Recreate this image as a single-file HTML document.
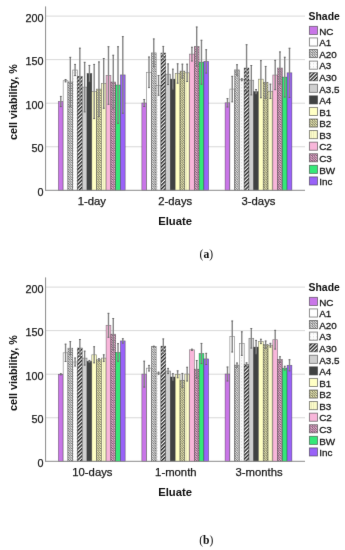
<!DOCTYPE html>
<html><head><meta charset="utf-8"><title>Cell viability charts</title>
<style>html,body{margin:0;padding:0;background:#fff;}body{width:345px;height:550px;overflow:hidden;}svg{display:block;}</style>
</head><body>
<svg width="345" height="550" viewBox="0 0 345 550" font-family="'Liberation Sans', Arial, sans-serif"><defs>
<pattern id="pA20" patternUnits="userSpaceOnUse" width="2.4" height="2.4">
<rect width="2.4" height="2.4" fill="#e8e8e8"/><path d="M-0.6,-0.6 L3,3" stroke="#5a5a5a" stroke-width="0.75"/><rect x="0.1" y="1.5" width="0.8" height="0.8" fill="#888"/>
</pattern>
<pattern id="pB2" patternUnits="userSpaceOnUse" width="2.4" height="2.4">
<rect width="2.4" height="2.4" fill="#ecebb8"/><path d="M-0.6,-0.6 L3,3" stroke="#66664c" stroke-width="0.75"/><rect x="0.1" y="1.5" width="0.8" height="0.8" fill="#8a8a6c"/>
</pattern>
<pattern id="pC3" patternUnits="userSpaceOnUse" width="2.4" height="2.4">
<rect width="2.4" height="2.4" fill="#eab0d0"/><path d="M-0.6,-0.6 L3,3" stroke="#6a4a60" stroke-width="0.8"/><rect x="0.1" y="1.5" width="0.8" height="0.8" fill="#8a6680"/>
</pattern>
<pattern id="pA3" patternUnits="userSpaceOnUse" width="3" height="3">
<rect width="3" height="3" fill="#fcfcfc"/><rect x="1.2" y="0" width="0.6" height="1.5" fill="#d4d4d4"/>
</pattern>
<pattern id="pB3" patternUnits="userSpaceOnUse" width="2.5" height="3">
<rect width="2.5" height="3" fill="#fcfcca"/><rect x="1" y="0" width="0.6" height="3" fill="#dcdcb0"/>
</pattern>
<pattern id="pA30" patternUnits="userSpaceOnUse" width="2.6" height="2.6" patternTransform="rotate(45)">
<rect width="2.6" height="2.6" fill="#fff"/><rect x="0" y="0" width="1.4" height="2.6" fill="#1e1e1e"/>
</pattern>
<filter id="soft" x="0" y="0" width="345" height="550" filterUnits="userSpaceOnUse" color-interpolation-filters="sRGB"><feConvolveMatrix order="3" kernelMatrix="0 1 0 1 12 1 0 1 0" edgeMode="duplicate" preserveAlpha="true"/></filter>
</defs>
<g filter="url(#soft)"><rect width="345" height="550" fill="#fff"/>
<line x1="45.6" y1="146.75" x2="305" y2="146.75" stroke="#d8d8d8" stroke-width="1"/>
<line x1="45.6" y1="103.2" x2="305" y2="103.2" stroke="#d8d8d8" stroke-width="1"/>
<line x1="45.6" y1="59.65" x2="305" y2="59.65" stroke="#d8d8d8" stroke-width="1"/>
<line x1="45.6" y1="16.1" x2="305" y2="16.1" stroke="#d8d8d8" stroke-width="1"/>
<rect x="58.4" y="101.5" width="4.77" height="88.8" fill="#C976E8" stroke="#2a2a2a" stroke-opacity="0.55" stroke-width="0.65"/>
<rect x="63.17" y="80.7" width="4.77" height="109.6" fill="#FFFFFF" stroke="#2a2a2a" stroke-opacity="0.55" stroke-width="0.65"/>
<rect x="67.94" y="82" width="4.77" height="108.3" fill="url(#pA20)" stroke="#2a2a2a" stroke-opacity="0.55" stroke-width="0.65"/>
<rect x="72.71" y="70" width="4.77" height="120.3" fill="url(#pA3)" stroke="#2a2a2a" stroke-opacity="0.55" stroke-width="0.65"/>
<rect x="77.48" y="76.3" width="4.77" height="114" fill="url(#pA30)" stroke="#2a2a2a" stroke-opacity="0.55" stroke-width="0.65"/>
<rect x="82.25" y="87.1" width="4.77" height="103.2" fill="#CFCFCF" stroke="#2a2a2a" stroke-opacity="0.55" stroke-width="0.65"/>
<rect x="87.02" y="73.5" width="4.77" height="116.8" fill="#404242" stroke="#2a2a2a" stroke-opacity="0.55" stroke-width="0.65"/>
<rect x="91.79" y="91.5" width="4.77" height="98.8" fill="#FFFFC4" stroke="#2a2a2a" stroke-opacity="0.55" stroke-width="0.65"/>
<rect x="96.56" y="89.1" width="4.77" height="101.2" fill="url(#pB2)" stroke="#2a2a2a" stroke-opacity="0.55" stroke-width="0.65"/>
<rect x="101.33" y="83.4" width="4.77" height="106.9" fill="url(#pB3)" stroke="#2a2a2a" stroke-opacity="0.55" stroke-width="0.65"/>
<rect x="106.1" y="75.5" width="4.77" height="114.8" fill="#F8B6DA" stroke="#2a2a2a" stroke-opacity="0.55" stroke-width="0.65"/>
<rect x="110.87" y="82" width="4.77" height="108.3" fill="url(#pC3)" stroke="#2a2a2a" stroke-opacity="0.55" stroke-width="0.65"/>
<rect x="115.64" y="85" width="4.77" height="105.3" fill="#34E878" stroke="#2a2a2a" stroke-opacity="0.55" stroke-width="0.65"/>
<rect x="120.41" y="74.9" width="4.77" height="115.4" fill="#9962F8" stroke="#2a2a2a" stroke-opacity="0.55" stroke-width="0.65"/>
<rect x="141.85" y="103" width="4.77" height="87.3" fill="#C976E8" stroke="#2a2a2a" stroke-opacity="0.55" stroke-width="0.65"/>
<rect x="146.62" y="72.3" width="4.77" height="118" fill="#FFFFFF" stroke="#2a2a2a" stroke-opacity="0.55" stroke-width="0.65"/>
<rect x="151.39" y="52.9" width="4.77" height="137.4" fill="url(#pA20)" stroke="#2a2a2a" stroke-opacity="0.55" stroke-width="0.65"/>
<rect x="156.16" y="85.4" width="4.77" height="104.9" fill="url(#pA3)" stroke="#2a2a2a" stroke-opacity="0.55" stroke-width="0.65"/>
<rect x="160.93" y="53" width="4.77" height="137.3" fill="url(#pA30)" stroke="#2a2a2a" stroke-opacity="0.55" stroke-width="0.65"/>
<rect x="165.7" y="74.2" width="4.77" height="116.1" fill="#CFCFCF" stroke="#2a2a2a" stroke-opacity="0.55" stroke-width="0.65"/>
<rect x="170.47" y="79.1" width="4.77" height="111.2" fill="#404242" stroke="#2a2a2a" stroke-opacity="0.55" stroke-width="0.65"/>
<rect x="175.24" y="73.5" width="4.77" height="116.8" fill="#FFFFC4" stroke="#2a2a2a" stroke-opacity="0.55" stroke-width="0.65"/>
<rect x="180.01" y="71.1" width="4.77" height="119.2" fill="url(#pB2)" stroke="#2a2a2a" stroke-opacity="0.55" stroke-width="0.65"/>
<rect x="184.78" y="72.8" width="4.77" height="117.5" fill="url(#pB3)" stroke="#2a2a2a" stroke-opacity="0.55" stroke-width="0.65"/>
<rect x="189.55" y="54.1" width="4.77" height="136.2" fill="#F8B6DA" stroke="#2a2a2a" stroke-opacity="0.55" stroke-width="0.65"/>
<rect x="194.32" y="46.5" width="4.77" height="143.8" fill="url(#pC3)" stroke="#2a2a2a" stroke-opacity="0.55" stroke-width="0.65"/>
<rect x="199.09" y="62.2" width="4.77" height="128.1" fill="#34E878" stroke="#2a2a2a" stroke-opacity="0.55" stroke-width="0.65"/>
<rect x="203.86" y="61.4" width="4.77" height="128.9" fill="#9962F8" stroke="#2a2a2a" stroke-opacity="0.55" stroke-width="0.65"/>
<rect x="225.1" y="102.8" width="4.77" height="87.5" fill="#C976E8" stroke="#2a2a2a" stroke-opacity="0.55" stroke-width="0.65"/>
<rect x="229.87" y="89.1" width="4.77" height="101.2" fill="#FFFFFF" stroke="#2a2a2a" stroke-opacity="0.55" stroke-width="0.65"/>
<rect x="234.64" y="69.9" width="4.77" height="120.4" fill="url(#pA20)" stroke="#2a2a2a" stroke-opacity="0.55" stroke-width="0.65"/>
<rect x="239.41" y="79.7" width="4.77" height="110.6" fill="url(#pA3)" stroke="#2a2a2a" stroke-opacity="0.55" stroke-width="0.65"/>
<rect x="244.18" y="68" width="4.77" height="122.3" fill="url(#pA30)" stroke="#2a2a2a" stroke-opacity="0.55" stroke-width="0.65"/>
<rect x="248.95" y="80.2" width="4.77" height="110.1" fill="#CFCFCF" stroke="#2a2a2a" stroke-opacity="0.55" stroke-width="0.65"/>
<rect x="253.72" y="91.6" width="4.77" height="98.7" fill="#404242" stroke="#2a2a2a" stroke-opacity="0.55" stroke-width="0.65"/>
<rect x="258.49" y="79.2" width="4.77" height="111.1" fill="#FFFFC4" stroke="#2a2a2a" stroke-opacity="0.55" stroke-width="0.65"/>
<rect x="263.26" y="82.3" width="4.77" height="108" fill="url(#pB2)" stroke="#2a2a2a" stroke-opacity="0.55" stroke-width="0.65"/>
<rect x="268.03" y="91.3" width="4.77" height="99" fill="url(#pB3)" stroke="#2a2a2a" stroke-opacity="0.55" stroke-width="0.65"/>
<rect x="272.8" y="75" width="4.77" height="115.3" fill="#F8B6DA" stroke="#2a2a2a" stroke-opacity="0.55" stroke-width="0.65"/>
<rect x="277.57" y="68" width="4.77" height="122.3" fill="url(#pC3)" stroke="#2a2a2a" stroke-opacity="0.55" stroke-width="0.65"/>
<rect x="282.34" y="77.1" width="4.77" height="113.2" fill="#34E878" stroke="#2a2a2a" stroke-opacity="0.55" stroke-width="0.65"/>
<rect x="287.11" y="72.8" width="4.77" height="117.5" fill="#9962F8" stroke="#2a2a2a" stroke-opacity="0.55" stroke-width="0.65"/>
<line x1="60.78" y1="96.2" x2="60.78" y2="106.8" stroke="#858585" stroke-width="1.4"/>
<rect x="59.88" y="95.9" width="1.8" height="1" fill="#6a6a6a"/>
<rect x="59.88" y="106.1" width="1.8" height="1" fill="#6a6a6a"/>
<line x1="65.56" y1="79.3" x2="65.56" y2="82.1" stroke="#858585" stroke-width="1.4"/>
<rect x="64.66" y="79" width="1.8" height="1" fill="#6a6a6a"/>
<rect x="64.66" y="81.4" width="1.8" height="1" fill="#6a6a6a"/>
<line x1="70.33" y1="57.1" x2="70.33" y2="106.9" stroke="#858585" stroke-width="1.4"/>
<rect x="69.42" y="56.8" width="1.8" height="1" fill="#6a6a6a"/>
<rect x="69.42" y="106.2" width="1.8" height="1" fill="#6a6a6a"/>
<line x1="75.09" y1="64.2" x2="75.09" y2="75.8" stroke="#858585" stroke-width="1.4"/>
<rect x="74.19" y="63.9" width="1.8" height="1" fill="#6a6a6a"/>
<rect x="74.19" y="75.1" width="1.8" height="1" fill="#6a6a6a"/>
<line x1="79.86" y1="47.9" x2="79.86" y2="104.7" stroke="#858585" stroke-width="1.4"/>
<rect x="78.96" y="47.6" width="1.8" height="1" fill="#6a6a6a"/>
<rect x="78.96" y="104" width="1.8" height="1" fill="#6a6a6a"/>
<line x1="84.64" y1="62.1" x2="84.64" y2="112.1" stroke="#858585" stroke-width="1.4"/>
<rect x="83.73" y="61.8" width="1.8" height="1" fill="#6a6a6a"/>
<rect x="83.73" y="111.4" width="1.8" height="1" fill="#6a6a6a"/>
<line x1="89.41" y1="65.2" x2="89.41" y2="81.8" stroke="#858585" stroke-width="1.4"/>
<rect x="88.5" y="64.9" width="1.8" height="1" fill="#6a6a6a"/>
<rect x="88.5" y="81.1" width="1.8" height="1" fill="#6a6a6a"/>
<line x1="94.17" y1="64.2" x2="94.17" y2="118.8" stroke="#858585" stroke-width="1.4"/>
<rect x="93.27" y="63.9" width="1.8" height="1" fill="#6a6a6a"/>
<rect x="93.27" y="118.1" width="1.8" height="1" fill="#6a6a6a"/>
<line x1="98.95" y1="61.7" x2="98.95" y2="116.5" stroke="#858585" stroke-width="1.4"/>
<rect x="98.05" y="61.4" width="1.8" height="1" fill="#6a6a6a"/>
<rect x="98.05" y="115.8" width="1.8" height="1" fill="#6a6a6a"/>
<line x1="103.71" y1="58.3" x2="103.71" y2="108.5" stroke="#858585" stroke-width="1.4"/>
<rect x="102.81" y="58" width="1.8" height="1" fill="#6a6a6a"/>
<rect x="102.81" y="107.8" width="1.8" height="1" fill="#6a6a6a"/>
<line x1="108.48" y1="46.5" x2="108.48" y2="104.5" stroke="#858585" stroke-width="1.4"/>
<rect x="107.58" y="46.2" width="1.8" height="1" fill="#6a6a6a"/>
<rect x="107.58" y="103.8" width="1.8" height="1" fill="#6a6a6a"/>
<line x1="113.26" y1="55" x2="113.26" y2="109" stroke="#858585" stroke-width="1.4"/>
<rect x="112.36" y="54.7" width="1.8" height="1" fill="#6a6a6a"/>
<rect x="112.36" y="108.3" width="1.8" height="1" fill="#6a6a6a"/>
<line x1="118.02" y1="46.5" x2="118.02" y2="123.5" stroke="#858585" stroke-width="1.4"/>
<rect x="117.12" y="46.2" width="1.8" height="1" fill="#6a6a6a"/>
<rect x="117.12" y="122.8" width="1.8" height="1" fill="#6a6a6a"/>
<line x1="122.8" y1="36.4" x2="122.8" y2="113.4" stroke="#858585" stroke-width="1.4"/>
<rect x="121.89" y="36.1" width="1.8" height="1" fill="#6a6a6a"/>
<rect x="121.89" y="112.7" width="1.8" height="1" fill="#6a6a6a"/>
<line x1="144.23" y1="99.3" x2="144.23" y2="106.7" stroke="#858585" stroke-width="1.4"/>
<rect x="143.33" y="99" width="1.8" height="1" fill="#6a6a6a"/>
<rect x="143.33" y="106" width="1.8" height="1" fill="#6a6a6a"/>
<line x1="149" y1="56.8" x2="149" y2="87.8" stroke="#858585" stroke-width="1.4"/>
<rect x="148.1" y="56.5" width="1.8" height="1" fill="#6a6a6a"/>
<rect x="148.1" y="87.1" width="1.8" height="1" fill="#6a6a6a"/>
<line x1="153.77" y1="38.7" x2="153.77" y2="67.1" stroke="#858585" stroke-width="1.4"/>
<rect x="152.87" y="38.4" width="1.8" height="1" fill="#6a6a6a"/>
<rect x="152.87" y="66.4" width="1.8" height="1" fill="#6a6a6a"/>
<line x1="158.54" y1="75.3" x2="158.54" y2="95.5" stroke="#858585" stroke-width="1.4"/>
<rect x="157.64" y="75" width="1.8" height="1" fill="#6a6a6a"/>
<rect x="157.64" y="94.8" width="1.8" height="1" fill="#6a6a6a"/>
<line x1="163.31" y1="46.2" x2="163.31" y2="59.8" stroke="#858585" stroke-width="1.4"/>
<rect x="162.41" y="45.9" width="1.8" height="1" fill="#6a6a6a"/>
<rect x="162.41" y="59.1" width="1.8" height="1" fill="#6a6a6a"/>
<line x1="168.08" y1="63.7" x2="168.08" y2="84.7" stroke="#858585" stroke-width="1.4"/>
<rect x="167.18" y="63.4" width="1.8" height="1" fill="#6a6a6a"/>
<rect x="167.18" y="84" width="1.8" height="1" fill="#6a6a6a"/>
<line x1="172.85" y1="68.9" x2="172.85" y2="89.3" stroke="#858585" stroke-width="1.4"/>
<rect x="171.95" y="68.6" width="1.8" height="1" fill="#6a6a6a"/>
<rect x="171.95" y="88.6" width="1.8" height="1" fill="#6a6a6a"/>
<line x1="177.62" y1="63.6" x2="177.62" y2="83.4" stroke="#858585" stroke-width="1.4"/>
<rect x="176.72" y="63.3" width="1.8" height="1" fill="#6a6a6a"/>
<rect x="176.72" y="82.7" width="1.8" height="1" fill="#6a6a6a"/>
<line x1="182.39" y1="63.9" x2="182.39" y2="78.3" stroke="#858585" stroke-width="1.4"/>
<rect x="181.49" y="63.6" width="1.8" height="1" fill="#6a6a6a"/>
<rect x="181.49" y="77.6" width="1.8" height="1" fill="#6a6a6a"/>
<line x1="187.16" y1="63.9" x2="187.16" y2="81.7" stroke="#858585" stroke-width="1.4"/>
<rect x="186.26" y="63.6" width="1.8" height="1" fill="#6a6a6a"/>
<rect x="186.26" y="81" width="1.8" height="1" fill="#6a6a6a"/>
<line x1="191.93" y1="47" x2="191.93" y2="61.2" stroke="#858585" stroke-width="1.4"/>
<rect x="191.03" y="46.7" width="1.8" height="1" fill="#6a6a6a"/>
<rect x="191.03" y="60.5" width="1.8" height="1" fill="#6a6a6a"/>
<line x1="196.7" y1="26.8" x2="196.7" y2="66.2" stroke="#858585" stroke-width="1.4"/>
<rect x="195.8" y="26.5" width="1.8" height="1" fill="#6a6a6a"/>
<rect x="195.8" y="65.5" width="1.8" height="1" fill="#6a6a6a"/>
<line x1="201.47" y1="40" x2="201.47" y2="84.4" stroke="#858585" stroke-width="1.4"/>
<rect x="200.57" y="39.7" width="1.8" height="1" fill="#6a6a6a"/>
<rect x="200.57" y="83.7" width="1.8" height="1" fill="#6a6a6a"/>
<line x1="206.24" y1="49.5" x2="206.24" y2="73.3" stroke="#858585" stroke-width="1.4"/>
<rect x="205.34" y="49.2" width="1.8" height="1" fill="#6a6a6a"/>
<rect x="205.34" y="72.6" width="1.8" height="1" fill="#6a6a6a"/>
<line x1="227.48" y1="98.4" x2="227.48" y2="107.2" stroke="#858585" stroke-width="1.4"/>
<rect x="226.58" y="98.1" width="1.8" height="1" fill="#6a6a6a"/>
<rect x="226.58" y="106.5" width="1.8" height="1" fill="#6a6a6a"/>
<line x1="232.25" y1="76.1" x2="232.25" y2="102.1" stroke="#858585" stroke-width="1.4"/>
<rect x="231.35" y="75.8" width="1.8" height="1" fill="#6a6a6a"/>
<rect x="231.35" y="101.4" width="1.8" height="1" fill="#6a6a6a"/>
<line x1="237.02" y1="64.5" x2="237.02" y2="75.3" stroke="#858585" stroke-width="1.4"/>
<rect x="236.12" y="64.2" width="1.8" height="1" fill="#6a6a6a"/>
<rect x="236.12" y="74.6" width="1.8" height="1" fill="#6a6a6a"/>
<line x1="241.79" y1="78.5" x2="241.79" y2="80.9" stroke="#858585" stroke-width="1.4"/>
<rect x="240.89" y="78.2" width="1.8" height="1" fill="#6a6a6a"/>
<rect x="240.89" y="80.2" width="1.8" height="1" fill="#6a6a6a"/>
<line x1="246.56" y1="44.5" x2="246.56" y2="91.5" stroke="#858585" stroke-width="1.4"/>
<rect x="245.66" y="44.2" width="1.8" height="1" fill="#6a6a6a"/>
<rect x="245.66" y="90.8" width="1.8" height="1" fill="#6a6a6a"/>
<line x1="251.33" y1="65.3" x2="251.33" y2="95.1" stroke="#858585" stroke-width="1.4"/>
<rect x="250.43" y="65" width="1.8" height="1" fill="#6a6a6a"/>
<rect x="250.43" y="94.4" width="1.8" height="1" fill="#6a6a6a"/>
<line x1="256.11" y1="89.3" x2="256.11" y2="93.9" stroke="#858585" stroke-width="1.4"/>
<rect x="255.21" y="89" width="1.8" height="1" fill="#6a6a6a"/>
<rect x="255.21" y="93.2" width="1.8" height="1" fill="#6a6a6a"/>
<line x1="260.88" y1="60.4" x2="260.88" y2="98" stroke="#858585" stroke-width="1.4"/>
<rect x="259.98" y="60.1" width="1.8" height="1" fill="#6a6a6a"/>
<rect x="259.98" y="97.3" width="1.8" height="1" fill="#6a6a6a"/>
<line x1="265.64" y1="66.2" x2="265.64" y2="98.4" stroke="#858585" stroke-width="1.4"/>
<rect x="264.75" y="65.9" width="1.8" height="1" fill="#6a6a6a"/>
<rect x="264.75" y="97.7" width="1.8" height="1" fill="#6a6a6a"/>
<line x1="270.41" y1="83.9" x2="270.41" y2="98.7" stroke="#858585" stroke-width="1.4"/>
<rect x="269.51" y="83.6" width="1.8" height="1" fill="#6a6a6a"/>
<rect x="269.51" y="98" width="1.8" height="1" fill="#6a6a6a"/>
<line x1="275.19" y1="60.1" x2="275.19" y2="89.9" stroke="#858585" stroke-width="1.4"/>
<rect x="274.29" y="59.8" width="1.8" height="1" fill="#6a6a6a"/>
<rect x="274.29" y="89.2" width="1.8" height="1" fill="#6a6a6a"/>
<line x1="279.95" y1="51.7" x2="279.95" y2="84.3" stroke="#858585" stroke-width="1.4"/>
<rect x="279.06" y="51.4" width="1.8" height="1" fill="#6a6a6a"/>
<rect x="279.06" y="83.6" width="1.8" height="1" fill="#6a6a6a"/>
<line x1="284.72" y1="57" x2="284.72" y2="97.2" stroke="#858585" stroke-width="1.4"/>
<rect x="283.82" y="56.7" width="1.8" height="1" fill="#6a6a6a"/>
<rect x="283.82" y="96.5" width="1.8" height="1" fill="#6a6a6a"/>
<line x1="289.5" y1="48" x2="289.5" y2="97.6" stroke="#858585" stroke-width="1.4"/>
<rect x="288.6" y="47.7" width="1.8" height="1" fill="#6a6a6a"/>
<rect x="288.6" y="96.9" width="1.8" height="1" fill="#6a6a6a"/>
<line x1="45.6" y1="6.4" x2="45.6" y2="190.3" stroke="#8c8c8c" stroke-width="1"/>
<line x1="45.1" y1="190.3" x2="305" y2="190.3" stroke="#8c8c8c" stroke-width="1"/>
<text x="43.6" y="195.8" text-anchor="end" font-size="10.8" fill="#1a1a1a" stroke="#1a1a1a" stroke-width="0.25">0</text>
<text x="43.6" y="152.25" text-anchor="end" font-size="10.8" fill="#1a1a1a" stroke="#1a1a1a" stroke-width="0.25">50</text>
<text x="43.6" y="108.7" text-anchor="end" font-size="10.8" fill="#1a1a1a" stroke="#1a1a1a" stroke-width="0.25">100</text>
<text x="43.6" y="65.15" text-anchor="end" font-size="10.8" fill="#1a1a1a" stroke="#1a1a1a" stroke-width="0.25">150</text>
<text x="43.6" y="21.6" text-anchor="end" font-size="10.8" fill="#1a1a1a" stroke="#1a1a1a" stroke-width="0.25">200</text>
<text x="91.79" y="204.7" text-anchor="middle" font-size="11.3" fill="#1a1a1a" stroke="#1a1a1a" stroke-width="0.25">1-day</text>
<text x="175.24" y="204.7" text-anchor="middle" font-size="11.3" fill="#1a1a1a" stroke="#1a1a1a" stroke-width="0.25">2-days</text>
<text x="258.49" y="204.7" text-anchor="middle" font-size="11.3" fill="#1a1a1a" stroke="#1a1a1a" stroke-width="0.25">3-days</text>
<text x="175.1" y="225" text-anchor="middle" font-size="11.3" font-weight="bold" fill="#111">Eluate</text>
<text transform="translate(17.3,102.1) rotate(-90)" text-anchor="middle" font-size="10.8" font-weight="bold" fill="#111">cell viability, %</text>
<text x="308.6" y="19.6" font-size="10.4" font-weight="bold" fill="#111">Shade</text>
<rect x="309.4" y="26.35" width="8.1" height="8.1" fill="#C976E8" stroke="#3a3a3a" stroke-opacity="0.62" stroke-width="0.9"/>
<text x="319.2" y="34.6" font-size="9.9" fill="#1a1a1a" stroke="#1a1a1a" stroke-width="0.3">NC</text>
<rect x="309.4" y="37.93" width="8.1" height="8.1" fill="#FFFFFF" stroke="#3a3a3a" stroke-opacity="0.62" stroke-width="0.9"/>
<text x="319.2" y="46.18" font-size="9.9" fill="#1a1a1a" stroke="#1a1a1a" stroke-width="0.3">A1</text>
<rect x="309.4" y="49.51" width="8.1" height="8.1" fill="url(#pA20)" stroke="#3a3a3a" stroke-opacity="0.62" stroke-width="0.9"/>
<text x="319.2" y="57.76" font-size="9.9" fill="#1a1a1a" stroke="#1a1a1a" stroke-width="0.3">A20</text>
<rect x="309.4" y="61.09" width="8.1" height="8.1" fill="url(#pA3)" stroke="#3a3a3a" stroke-opacity="0.62" stroke-width="0.9"/>
<text x="319.2" y="69.34" font-size="9.9" fill="#1a1a1a" stroke="#1a1a1a" stroke-width="0.3">A3</text>
<rect x="309.4" y="72.67" width="8.1" height="8.1" fill="url(#pA30)" stroke="#3a3a3a" stroke-opacity="0.62" stroke-width="0.9"/>
<text x="319.2" y="80.92" font-size="9.9" fill="#1a1a1a" stroke="#1a1a1a" stroke-width="0.3">A30</text>
<rect x="309.4" y="84.25" width="8.1" height="8.1" fill="#CFCFCF" stroke="#3a3a3a" stroke-opacity="0.62" stroke-width="0.9"/>
<text x="319.2" y="92.5" font-size="9.9" fill="#1a1a1a" stroke="#1a1a1a" stroke-width="0.3">A3.5</text>
<rect x="309.4" y="95.83" width="8.1" height="8.1" fill="#404242" stroke="#3a3a3a" stroke-opacity="0.62" stroke-width="0.9"/>
<text x="319.2" y="104.08" font-size="9.9" fill="#1a1a1a" stroke="#1a1a1a" stroke-width="0.3">A4</text>
<rect x="309.4" y="107.41" width="8.1" height="8.1" fill="#FFFFC4" stroke="#3a3a3a" stroke-opacity="0.62" stroke-width="0.9"/>
<text x="319.2" y="115.66" font-size="9.9" fill="#1a1a1a" stroke="#1a1a1a" stroke-width="0.3">B1</text>
<rect x="309.4" y="118.99" width="8.1" height="8.1" fill="url(#pB2)" stroke="#3a3a3a" stroke-opacity="0.62" stroke-width="0.9"/>
<text x="319.2" y="127.24" font-size="9.9" fill="#1a1a1a" stroke="#1a1a1a" stroke-width="0.3">B2</text>
<rect x="309.4" y="130.57" width="8.1" height="8.1" fill="url(#pB3)" stroke="#3a3a3a" stroke-opacity="0.62" stroke-width="0.9"/>
<text x="319.2" y="138.82" font-size="9.9" fill="#1a1a1a" stroke="#1a1a1a" stroke-width="0.3">B3</text>
<rect x="309.4" y="142.15" width="8.1" height="8.1" fill="#F8B6DA" stroke="#3a3a3a" stroke-opacity="0.62" stroke-width="0.9"/>
<text x="319.2" y="150.4" font-size="9.9" fill="#1a1a1a" stroke="#1a1a1a" stroke-width="0.3">C2</text>
<rect x="309.4" y="153.73" width="8.1" height="8.1" fill="url(#pC3)" stroke="#3a3a3a" stroke-opacity="0.62" stroke-width="0.9"/>
<text x="319.2" y="161.98" font-size="9.9" fill="#1a1a1a" stroke="#1a1a1a" stroke-width="0.3">C3</text>
<rect x="309.4" y="165.31" width="8.1" height="8.1" fill="#34E878" stroke="#3a3a3a" stroke-opacity="0.62" stroke-width="0.9"/>
<text x="319.2" y="173.56" font-size="9.9" fill="#1a1a1a" stroke="#1a1a1a" stroke-width="0.3">BW</text>
<rect x="309.4" y="176.89" width="8.1" height="8.1" fill="#9962F8" stroke="#3a3a3a" stroke-opacity="0.62" stroke-width="0.9"/>
<text x="319.2" y="185.14" font-size="9.9" fill="#1a1a1a" stroke="#1a1a1a" stroke-width="0.3">Inc</text>
<line x1="45.6" y1="417.75" x2="305" y2="417.75" stroke="#d8d8d8" stroke-width="1"/>
<line x1="45.6" y1="374.2" x2="305" y2="374.2" stroke="#d8d8d8" stroke-width="1"/>
<line x1="45.6" y1="330.65" x2="305" y2="330.65" stroke="#d8d8d8" stroke-width="1"/>
<line x1="45.6" y1="287.1" x2="305" y2="287.1" stroke="#d8d8d8" stroke-width="1"/>
<rect x="58.4" y="374.3" width="4.77" height="87" fill="#C976E8" stroke="#2a2a2a" stroke-opacity="0.55" stroke-width="0.65"/>
<rect x="63.17" y="352.8" width="4.77" height="108.5" fill="#FFFFFF" stroke="#2a2a2a" stroke-opacity="0.55" stroke-width="0.65"/>
<rect x="67.94" y="348.2" width="4.77" height="113.1" fill="url(#pA20)" stroke="#2a2a2a" stroke-opacity="0.55" stroke-width="0.65"/>
<rect x="72.71" y="362" width="4.77" height="99.3" fill="url(#pA3)" stroke="#2a2a2a" stroke-opacity="0.55" stroke-width="0.65"/>
<rect x="77.48" y="348" width="4.77" height="113.3" fill="url(#pA30)" stroke="#2a2a2a" stroke-opacity="0.55" stroke-width="0.65"/>
<rect x="82.25" y="358.1" width="4.77" height="103.2" fill="#CFCFCF" stroke="#2a2a2a" stroke-opacity="0.55" stroke-width="0.65"/>
<rect x="87.02" y="361.4" width="4.77" height="99.9" fill="#404242" stroke="#2a2a2a" stroke-opacity="0.55" stroke-width="0.65"/>
<rect x="91.79" y="354.8" width="4.77" height="106.5" fill="#FFFFC4" stroke="#2a2a2a" stroke-opacity="0.55" stroke-width="0.65"/>
<rect x="96.56" y="359.8" width="4.77" height="101.5" fill="url(#pB2)" stroke="#2a2a2a" stroke-opacity="0.55" stroke-width="0.65"/>
<rect x="101.33" y="358.1" width="4.77" height="103.2" fill="url(#pB3)" stroke="#2a2a2a" stroke-opacity="0.55" stroke-width="0.65"/>
<rect x="106.1" y="325.3" width="4.77" height="136" fill="#F8B6DA" stroke="#2a2a2a" stroke-opacity="0.55" stroke-width="0.65"/>
<rect x="110.87" y="334.2" width="4.77" height="127.1" fill="url(#pC3)" stroke="#2a2a2a" stroke-opacity="0.55" stroke-width="0.65"/>
<rect x="115.64" y="352.4" width="4.77" height="108.9" fill="#34E878" stroke="#2a2a2a" stroke-opacity="0.55" stroke-width="0.65"/>
<rect x="120.41" y="340.9" width="4.77" height="120.4" fill="#9962F8" stroke="#2a2a2a" stroke-opacity="0.55" stroke-width="0.65"/>
<rect x="141.85" y="374.1" width="4.77" height="87.2" fill="#C976E8" stroke="#2a2a2a" stroke-opacity="0.55" stroke-width="0.65"/>
<rect x="146.62" y="368.2" width="4.77" height="93.1" fill="#FFFFFF" stroke="#2a2a2a" stroke-opacity="0.55" stroke-width="0.65"/>
<rect x="151.39" y="346.4" width="4.77" height="114.9" fill="url(#pA20)" stroke="#2a2a2a" stroke-opacity="0.55" stroke-width="0.65"/>
<rect x="156.16" y="373.2" width="4.77" height="88.1" fill="url(#pA3)" stroke="#2a2a2a" stroke-opacity="0.55" stroke-width="0.65"/>
<rect x="160.93" y="346.2" width="4.77" height="115.1" fill="url(#pA30)" stroke="#2a2a2a" stroke-opacity="0.55" stroke-width="0.65"/>
<rect x="165.7" y="371" width="4.77" height="90.3" fill="#CFCFCF" stroke="#2a2a2a" stroke-opacity="0.55" stroke-width="0.65"/>
<rect x="170.47" y="377" width="4.77" height="84.3" fill="#404242" stroke="#2a2a2a" stroke-opacity="0.55" stroke-width="0.65"/>
<rect x="175.24" y="374.3" width="4.77" height="87" fill="#FFFFC4" stroke="#2a2a2a" stroke-opacity="0.55" stroke-width="0.65"/>
<rect x="180.01" y="380.3" width="4.77" height="81" fill="url(#pB2)" stroke="#2a2a2a" stroke-opacity="0.55" stroke-width="0.65"/>
<rect x="184.78" y="374.1" width="4.77" height="87.2" fill="url(#pB3)" stroke="#2a2a2a" stroke-opacity="0.55" stroke-width="0.65"/>
<rect x="189.55" y="349.8" width="4.77" height="111.5" fill="#F8B6DA" stroke="#2a2a2a" stroke-opacity="0.55" stroke-width="0.65"/>
<rect x="194.32" y="369.2" width="4.77" height="92.1" fill="url(#pC3)" stroke="#2a2a2a" stroke-opacity="0.55" stroke-width="0.65"/>
<rect x="199.09" y="353.5" width="4.77" height="107.8" fill="#34E878" stroke="#2a2a2a" stroke-opacity="0.55" stroke-width="0.65"/>
<rect x="203.86" y="358.9" width="4.77" height="102.4" fill="#9962F8" stroke="#2a2a2a" stroke-opacity="0.55" stroke-width="0.65"/>
<rect x="225.1" y="374" width="4.77" height="87.3" fill="#C976E8" stroke="#2a2a2a" stroke-opacity="0.55" stroke-width="0.65"/>
<rect x="229.87" y="336.5" width="4.77" height="124.8" fill="#FFFFFF" stroke="#2a2a2a" stroke-opacity="0.55" stroke-width="0.65"/>
<rect x="234.64" y="365.1" width="4.77" height="96.2" fill="url(#pA20)" stroke="#2a2a2a" stroke-opacity="0.55" stroke-width="0.65"/>
<rect x="239.41" y="343.6" width="4.77" height="117.7" fill="url(#pA3)" stroke="#2a2a2a" stroke-opacity="0.55" stroke-width="0.65"/>
<rect x="244.18" y="364.5" width="4.77" height="96.8" fill="url(#pA30)" stroke="#2a2a2a" stroke-opacity="0.55" stroke-width="0.65"/>
<rect x="248.95" y="338.3" width="4.77" height="123" fill="#CFCFCF" stroke="#2a2a2a" stroke-opacity="0.55" stroke-width="0.65"/>
<rect x="253.72" y="347.1" width="4.77" height="114.2" fill="#404242" stroke="#2a2a2a" stroke-opacity="0.55" stroke-width="0.65"/>
<rect x="258.49" y="341.4" width="4.77" height="119.9" fill="#FFFFC4" stroke="#2a2a2a" stroke-opacity="0.55" stroke-width="0.65"/>
<rect x="263.26" y="344.6" width="4.77" height="116.7" fill="url(#pB2)" stroke="#2a2a2a" stroke-opacity="0.55" stroke-width="0.65"/>
<rect x="268.03" y="345.2" width="4.77" height="116.1" fill="url(#pB3)" stroke="#2a2a2a" stroke-opacity="0.55" stroke-width="0.65"/>
<rect x="272.8" y="339.7" width="4.77" height="121.6" fill="#F8B6DA" stroke="#2a2a2a" stroke-opacity="0.55" stroke-width="0.65"/>
<rect x="277.57" y="359.5" width="4.77" height="101.8" fill="url(#pC3)" stroke="#2a2a2a" stroke-opacity="0.55" stroke-width="0.65"/>
<rect x="282.34" y="368.1" width="4.77" height="93.2" fill="#34E878" stroke="#2a2a2a" stroke-opacity="0.55" stroke-width="0.65"/>
<rect x="287.11" y="365.3" width="4.77" height="96" fill="#9962F8" stroke="#2a2a2a" stroke-opacity="0.55" stroke-width="0.65"/>
<line x1="60.78" y1="373.5" x2="60.78" y2="375.1" stroke="#858585" stroke-width="1.4"/>
<rect x="59.88" y="373.2" width="1.8" height="1" fill="#6a6a6a"/>
<rect x="59.88" y="374.4" width="1.8" height="1" fill="#6a6a6a"/>
<line x1="65.56" y1="343.9" x2="65.56" y2="361.7" stroke="#858585" stroke-width="1.4"/>
<rect x="64.66" y="343.6" width="1.8" height="1" fill="#6a6a6a"/>
<rect x="64.66" y="361" width="1.8" height="1" fill="#6a6a6a"/>
<line x1="70.33" y1="341.4" x2="70.33" y2="355" stroke="#858585" stroke-width="1.4"/>
<rect x="69.42" y="341.1" width="1.8" height="1" fill="#6a6a6a"/>
<rect x="69.42" y="354.3" width="1.8" height="1" fill="#6a6a6a"/>
<line x1="75.09" y1="357.8" x2="75.09" y2="366.2" stroke="#858585" stroke-width="1.4"/>
<rect x="74.19" y="357.5" width="1.8" height="1" fill="#6a6a6a"/>
<rect x="74.19" y="365.5" width="1.8" height="1" fill="#6a6a6a"/>
<line x1="79.86" y1="339.3" x2="79.86" y2="356.7" stroke="#858585" stroke-width="1.4"/>
<rect x="78.96" y="339" width="1.8" height="1" fill="#6a6a6a"/>
<rect x="78.96" y="356" width="1.8" height="1" fill="#6a6a6a"/>
<line x1="84.64" y1="350.9" x2="84.64" y2="365.3" stroke="#858585" stroke-width="1.4"/>
<rect x="83.73" y="350.6" width="1.8" height="1" fill="#6a6a6a"/>
<rect x="83.73" y="364.6" width="1.8" height="1" fill="#6a6a6a"/>
<line x1="89.41" y1="360.2" x2="89.41" y2="362.6" stroke="#858585" stroke-width="1.4"/>
<rect x="88.5" y="359.9" width="1.8" height="1" fill="#6a6a6a"/>
<rect x="88.5" y="361.9" width="1.8" height="1" fill="#6a6a6a"/>
<line x1="94.17" y1="346.5" x2="94.17" y2="363.1" stroke="#858585" stroke-width="1.4"/>
<rect x="93.27" y="346.2" width="1.8" height="1" fill="#6a6a6a"/>
<rect x="93.27" y="362.4" width="1.8" height="1" fill="#6a6a6a"/>
<line x1="98.95" y1="358.5" x2="98.95" y2="361.1" stroke="#858585" stroke-width="1.4"/>
<rect x="98.05" y="358.2" width="1.8" height="1" fill="#6a6a6a"/>
<rect x="98.05" y="360.4" width="1.8" height="1" fill="#6a6a6a"/>
<line x1="103.71" y1="354.6" x2="103.71" y2="361.6" stroke="#858585" stroke-width="1.4"/>
<rect x="102.81" y="354.3" width="1.8" height="1" fill="#6a6a6a"/>
<rect x="102.81" y="360.9" width="1.8" height="1" fill="#6a6a6a"/>
<line x1="108.48" y1="313.1" x2="108.48" y2="337.5" stroke="#858585" stroke-width="1.4"/>
<rect x="107.58" y="312.8" width="1.8" height="1" fill="#6a6a6a"/>
<rect x="107.58" y="336.8" width="1.8" height="1" fill="#6a6a6a"/>
<line x1="113.26" y1="318.3" x2="113.26" y2="350.1" stroke="#858585" stroke-width="1.4"/>
<rect x="112.36" y="318" width="1.8" height="1" fill="#6a6a6a"/>
<rect x="112.36" y="349.4" width="1.8" height="1" fill="#6a6a6a"/>
<line x1="118.02" y1="343.4" x2="118.02" y2="361.4" stroke="#858585" stroke-width="1.4"/>
<rect x="117.12" y="343.1" width="1.8" height="1" fill="#6a6a6a"/>
<rect x="117.12" y="360.7" width="1.8" height="1" fill="#6a6a6a"/>
<line x1="122.8" y1="338.5" x2="122.8" y2="343.3" stroke="#858585" stroke-width="1.4"/>
<rect x="121.89" y="338.2" width="1.8" height="1" fill="#6a6a6a"/>
<rect x="121.89" y="342.6" width="1.8" height="1" fill="#6a6a6a"/>
<line x1="144.23" y1="360.9" x2="144.23" y2="387.3" stroke="#858585" stroke-width="1.4"/>
<rect x="143.33" y="360.6" width="1.8" height="1" fill="#6a6a6a"/>
<rect x="143.33" y="386.6" width="1.8" height="1" fill="#6a6a6a"/>
<line x1="149" y1="365.2" x2="149" y2="371.2" stroke="#858585" stroke-width="1.4"/>
<rect x="148.1" y="364.9" width="1.8" height="1" fill="#6a6a6a"/>
<rect x="148.1" y="370.5" width="1.8" height="1" fill="#6a6a6a"/>
<line x1="153.77" y1="345.9" x2="153.77" y2="346.9" stroke="#858585" stroke-width="1.4"/>
<rect x="152.87" y="345.6" width="1.8" height="1" fill="#6a6a6a"/>
<rect x="152.87" y="346.2" width="1.8" height="1" fill="#6a6a6a"/>
<line x1="158.54" y1="371.9" x2="158.54" y2="374.5" stroke="#858585" stroke-width="1.4"/>
<rect x="157.64" y="371.6" width="1.8" height="1" fill="#6a6a6a"/>
<rect x="157.64" y="373.8" width="1.8" height="1" fill="#6a6a6a"/>
<line x1="163.31" y1="338.7" x2="163.31" y2="353.7" stroke="#858585" stroke-width="1.4"/>
<rect x="162.41" y="338.4" width="1.8" height="1" fill="#6a6a6a"/>
<rect x="162.41" y="353" width="1.8" height="1" fill="#6a6a6a"/>
<line x1="168.08" y1="368.2" x2="168.08" y2="373.8" stroke="#858585" stroke-width="1.4"/>
<rect x="167.18" y="367.9" width="1.8" height="1" fill="#6a6a6a"/>
<rect x="167.18" y="373.1" width="1.8" height="1" fill="#6a6a6a"/>
<line x1="172.85" y1="373.5" x2="172.85" y2="380.5" stroke="#858585" stroke-width="1.4"/>
<rect x="171.95" y="373.2" width="1.8" height="1" fill="#6a6a6a"/>
<rect x="171.95" y="379.8" width="1.8" height="1" fill="#6a6a6a"/>
<line x1="177.62" y1="370.6" x2="177.62" y2="378" stroke="#858585" stroke-width="1.4"/>
<rect x="176.72" y="370.3" width="1.8" height="1" fill="#6a6a6a"/>
<rect x="176.72" y="377.3" width="1.8" height="1" fill="#6a6a6a"/>
<line x1="182.39" y1="373.2" x2="182.39" y2="387.4" stroke="#858585" stroke-width="1.4"/>
<rect x="181.49" y="372.9" width="1.8" height="1" fill="#6a6a6a"/>
<rect x="181.49" y="386.7" width="1.8" height="1" fill="#6a6a6a"/>
<line x1="187.16" y1="367" x2="187.16" y2="381.2" stroke="#858585" stroke-width="1.4"/>
<rect x="186.26" y="366.7" width="1.8" height="1" fill="#6a6a6a"/>
<rect x="186.26" y="380.5" width="1.8" height="1" fill="#6a6a6a"/>
<line x1="191.93" y1="348.9" x2="191.93" y2="350.7" stroke="#858585" stroke-width="1.4"/>
<rect x="191.03" y="348.6" width="1.8" height="1" fill="#6a6a6a"/>
<rect x="191.03" y="350" width="1.8" height="1" fill="#6a6a6a"/>
<line x1="196.7" y1="360.3" x2="196.7" y2="378.1" stroke="#858585" stroke-width="1.4"/>
<rect x="195.8" y="360" width="1.8" height="1" fill="#6a6a6a"/>
<rect x="195.8" y="377.4" width="1.8" height="1" fill="#6a6a6a"/>
<line x1="201.47" y1="343.2" x2="201.47" y2="363.8" stroke="#858585" stroke-width="1.4"/>
<rect x="200.57" y="342.9" width="1.8" height="1" fill="#6a6a6a"/>
<rect x="200.57" y="363.1" width="1.8" height="1" fill="#6a6a6a"/>
<line x1="206.24" y1="353.1" x2="206.24" y2="364.7" stroke="#858585" stroke-width="1.4"/>
<rect x="205.34" y="352.8" width="1.8" height="1" fill="#6a6a6a"/>
<rect x="205.34" y="364" width="1.8" height="1" fill="#6a6a6a"/>
<line x1="227.48" y1="366.8" x2="227.48" y2="381.2" stroke="#858585" stroke-width="1.4"/>
<rect x="226.58" y="366.5" width="1.8" height="1" fill="#6a6a6a"/>
<rect x="226.58" y="380.5" width="1.8" height="1" fill="#6a6a6a"/>
<line x1="232.25" y1="320.8" x2="232.25" y2="352.2" stroke="#858585" stroke-width="1.4"/>
<rect x="231.35" y="320.5" width="1.8" height="1" fill="#6a6a6a"/>
<rect x="231.35" y="351.5" width="1.8" height="1" fill="#6a6a6a"/>
<line x1="237.02" y1="362.8" x2="237.02" y2="367.4" stroke="#858585" stroke-width="1.4"/>
<rect x="236.12" y="362.5" width="1.8" height="1" fill="#6a6a6a"/>
<rect x="236.12" y="366.7" width="1.8" height="1" fill="#6a6a6a"/>
<line x1="241.79" y1="331.6" x2="241.79" y2="355.6" stroke="#858585" stroke-width="1.4"/>
<rect x="240.89" y="331.3" width="1.8" height="1" fill="#6a6a6a"/>
<rect x="240.89" y="354.9" width="1.8" height="1" fill="#6a6a6a"/>
<line x1="246.56" y1="362.6" x2="246.56" y2="366.4" stroke="#858585" stroke-width="1.4"/>
<rect x="245.66" y="362.3" width="1.8" height="1" fill="#6a6a6a"/>
<rect x="245.66" y="365.7" width="1.8" height="1" fill="#6a6a6a"/>
<line x1="251.33" y1="328.3" x2="251.33" y2="348.3" stroke="#858585" stroke-width="1.4"/>
<rect x="250.43" y="328" width="1.8" height="1" fill="#6a6a6a"/>
<rect x="250.43" y="347.6" width="1.8" height="1" fill="#6a6a6a"/>
<line x1="256.11" y1="340.2" x2="256.11" y2="354" stroke="#858585" stroke-width="1.4"/>
<rect x="255.21" y="339.9" width="1.8" height="1" fill="#6a6a6a"/>
<rect x="255.21" y="353.3" width="1.8" height="1" fill="#6a6a6a"/>
<line x1="260.88" y1="339" x2="260.88" y2="343.8" stroke="#858585" stroke-width="1.4"/>
<rect x="259.98" y="338.7" width="1.8" height="1" fill="#6a6a6a"/>
<rect x="259.98" y="343.1" width="1.8" height="1" fill="#6a6a6a"/>
<line x1="265.64" y1="340.8" x2="265.64" y2="348.4" stroke="#858585" stroke-width="1.4"/>
<rect x="264.75" y="340.5" width="1.8" height="1" fill="#6a6a6a"/>
<rect x="264.75" y="347.7" width="1.8" height="1" fill="#6a6a6a"/>
<line x1="270.41" y1="343.1" x2="270.41" y2="347.3" stroke="#858585" stroke-width="1.4"/>
<rect x="269.51" y="342.8" width="1.8" height="1" fill="#6a6a6a"/>
<rect x="269.51" y="346.6" width="1.8" height="1" fill="#6a6a6a"/>
<line x1="275.19" y1="330.1" x2="275.19" y2="349.3" stroke="#858585" stroke-width="1.4"/>
<rect x="274.29" y="329.8" width="1.8" height="1" fill="#6a6a6a"/>
<rect x="274.29" y="348.6" width="1.8" height="1" fill="#6a6a6a"/>
<line x1="279.95" y1="356.5" x2="279.95" y2="362.5" stroke="#858585" stroke-width="1.4"/>
<rect x="279.06" y="356.2" width="1.8" height="1" fill="#6a6a6a"/>
<rect x="279.06" y="361.8" width="1.8" height="1" fill="#6a6a6a"/>
<line x1="284.72" y1="366" x2="284.72" y2="370.2" stroke="#858585" stroke-width="1.4"/>
<rect x="283.82" y="365.7" width="1.8" height="1" fill="#6a6a6a"/>
<rect x="283.82" y="369.5" width="1.8" height="1" fill="#6a6a6a"/>
<line x1="289.5" y1="359.5" x2="289.5" y2="371.1" stroke="#858585" stroke-width="1.4"/>
<rect x="288.6" y="359.2" width="1.8" height="1" fill="#6a6a6a"/>
<rect x="288.6" y="370.4" width="1.8" height="1" fill="#6a6a6a"/>
<line x1="45.6" y1="277.4" x2="45.6" y2="461.3" stroke="#8c8c8c" stroke-width="1"/>
<line x1="45.1" y1="461.3" x2="305" y2="461.3" stroke="#8c8c8c" stroke-width="1"/>
<text x="43.6" y="466.8" text-anchor="end" font-size="10.8" fill="#1a1a1a" stroke="#1a1a1a" stroke-width="0.25">0</text>
<text x="43.6" y="423.25" text-anchor="end" font-size="10.8" fill="#1a1a1a" stroke="#1a1a1a" stroke-width="0.25">50</text>
<text x="43.6" y="379.7" text-anchor="end" font-size="10.8" fill="#1a1a1a" stroke="#1a1a1a" stroke-width="0.25">100</text>
<text x="43.6" y="336.15" text-anchor="end" font-size="10.8" fill="#1a1a1a" stroke="#1a1a1a" stroke-width="0.25">150</text>
<text x="43.6" y="292.6" text-anchor="end" font-size="10.8" fill="#1a1a1a" stroke="#1a1a1a" stroke-width="0.25">200</text>
<text x="92.39" y="475.7" text-anchor="middle" font-size="11.3" fill="#1a1a1a" stroke="#1a1a1a" stroke-width="0.25">10-days</text>
<text x="175.84" y="475.7" text-anchor="middle" font-size="11.3" fill="#1a1a1a" stroke="#1a1a1a" stroke-width="0.25">1-month</text>
<text x="259.09" y="475.7" text-anchor="middle" font-size="11.3" fill="#1a1a1a" stroke="#1a1a1a" stroke-width="0.25">3-months</text>
<text x="175.1" y="496" text-anchor="middle" font-size="11.3" font-weight="bold" fill="#111">Eluate</text>
<text transform="translate(17.3,373.1) rotate(-90)" text-anchor="middle" font-size="10.8" font-weight="bold" fill="#111">cell viability, %</text>
<text x="308.6" y="290.6" font-size="10.4" font-weight="bold" fill="#111">Shade</text>
<rect x="309.4" y="297.35" width="8.1" height="8.1" fill="#C976E8" stroke="#3a3a3a" stroke-opacity="0.62" stroke-width="0.9"/>
<text x="319.2" y="305.6" font-size="9.9" fill="#1a1a1a" stroke="#1a1a1a" stroke-width="0.3">NC</text>
<rect x="309.4" y="308.93" width="8.1" height="8.1" fill="#FFFFFF" stroke="#3a3a3a" stroke-opacity="0.62" stroke-width="0.9"/>
<text x="319.2" y="317.18" font-size="9.9" fill="#1a1a1a" stroke="#1a1a1a" stroke-width="0.3">A1</text>
<rect x="309.4" y="320.51" width="8.1" height="8.1" fill="url(#pA20)" stroke="#3a3a3a" stroke-opacity="0.62" stroke-width="0.9"/>
<text x="319.2" y="328.76" font-size="9.9" fill="#1a1a1a" stroke="#1a1a1a" stroke-width="0.3">A20</text>
<rect x="309.4" y="332.09" width="8.1" height="8.1" fill="url(#pA3)" stroke="#3a3a3a" stroke-opacity="0.62" stroke-width="0.9"/>
<text x="319.2" y="340.34" font-size="9.9" fill="#1a1a1a" stroke="#1a1a1a" stroke-width="0.3">A3</text>
<rect x="309.4" y="343.67" width="8.1" height="8.1" fill="url(#pA30)" stroke="#3a3a3a" stroke-opacity="0.62" stroke-width="0.9"/>
<text x="319.2" y="351.92" font-size="9.9" fill="#1a1a1a" stroke="#1a1a1a" stroke-width="0.3">A30</text>
<rect x="309.4" y="355.25" width="8.1" height="8.1" fill="#CFCFCF" stroke="#3a3a3a" stroke-opacity="0.62" stroke-width="0.9"/>
<text x="319.2" y="363.5" font-size="9.9" fill="#1a1a1a" stroke="#1a1a1a" stroke-width="0.3">A3.5</text>
<rect x="309.4" y="366.83" width="8.1" height="8.1" fill="#404242" stroke="#3a3a3a" stroke-opacity="0.62" stroke-width="0.9"/>
<text x="319.2" y="375.08" font-size="9.9" fill="#1a1a1a" stroke="#1a1a1a" stroke-width="0.3">A4</text>
<rect x="309.4" y="378.41" width="8.1" height="8.1" fill="#FFFFC4" stroke="#3a3a3a" stroke-opacity="0.62" stroke-width="0.9"/>
<text x="319.2" y="386.66" font-size="9.9" fill="#1a1a1a" stroke="#1a1a1a" stroke-width="0.3">B1</text>
<rect x="309.4" y="389.99" width="8.1" height="8.1" fill="url(#pB2)" stroke="#3a3a3a" stroke-opacity="0.62" stroke-width="0.9"/>
<text x="319.2" y="398.24" font-size="9.9" fill="#1a1a1a" stroke="#1a1a1a" stroke-width="0.3">B2</text>
<rect x="309.4" y="401.57" width="8.1" height="8.1" fill="url(#pB3)" stroke="#3a3a3a" stroke-opacity="0.62" stroke-width="0.9"/>
<text x="319.2" y="409.82" font-size="9.9" fill="#1a1a1a" stroke="#1a1a1a" stroke-width="0.3">B3</text>
<rect x="309.4" y="413.15" width="8.1" height="8.1" fill="#F8B6DA" stroke="#3a3a3a" stroke-opacity="0.62" stroke-width="0.9"/>
<text x="319.2" y="421.4" font-size="9.9" fill="#1a1a1a" stroke="#1a1a1a" stroke-width="0.3">C2</text>
<rect x="309.4" y="424.73" width="8.1" height="8.1" fill="url(#pC3)" stroke="#3a3a3a" stroke-opacity="0.62" stroke-width="0.9"/>
<text x="319.2" y="432.98" font-size="9.9" fill="#1a1a1a" stroke="#1a1a1a" stroke-width="0.3">C3</text>
<rect x="309.4" y="436.31" width="8.1" height="8.1" fill="#34E878" stroke="#3a3a3a" stroke-opacity="0.62" stroke-width="0.9"/>
<text x="319.2" y="444.56" font-size="9.9" fill="#1a1a1a" stroke="#1a1a1a" stroke-width="0.3">BW</text>
<rect x="309.4" y="447.89" width="8.1" height="8.1" fill="#9962F8" stroke="#3a3a3a" stroke-opacity="0.62" stroke-width="0.9"/>
<text x="319.2" y="456.14" font-size="9.9" fill="#1a1a1a" stroke="#1a1a1a" stroke-width="0.3">Inc</text>
<text x="206.3" y="258.4" text-anchor="middle" font-family="'Liberation Serif', 'Times New Roman', serif" font-size="11.6" fill="#111">(<tspan font-weight="bold">a</tspan>)</text>
<text x="206.3" y="544.1" text-anchor="middle" font-family="'Liberation Serif', 'Times New Roman', serif" font-size="11.6" fill="#111">(<tspan font-weight="bold">b</tspan>)</text></g></svg>
</body></html>
